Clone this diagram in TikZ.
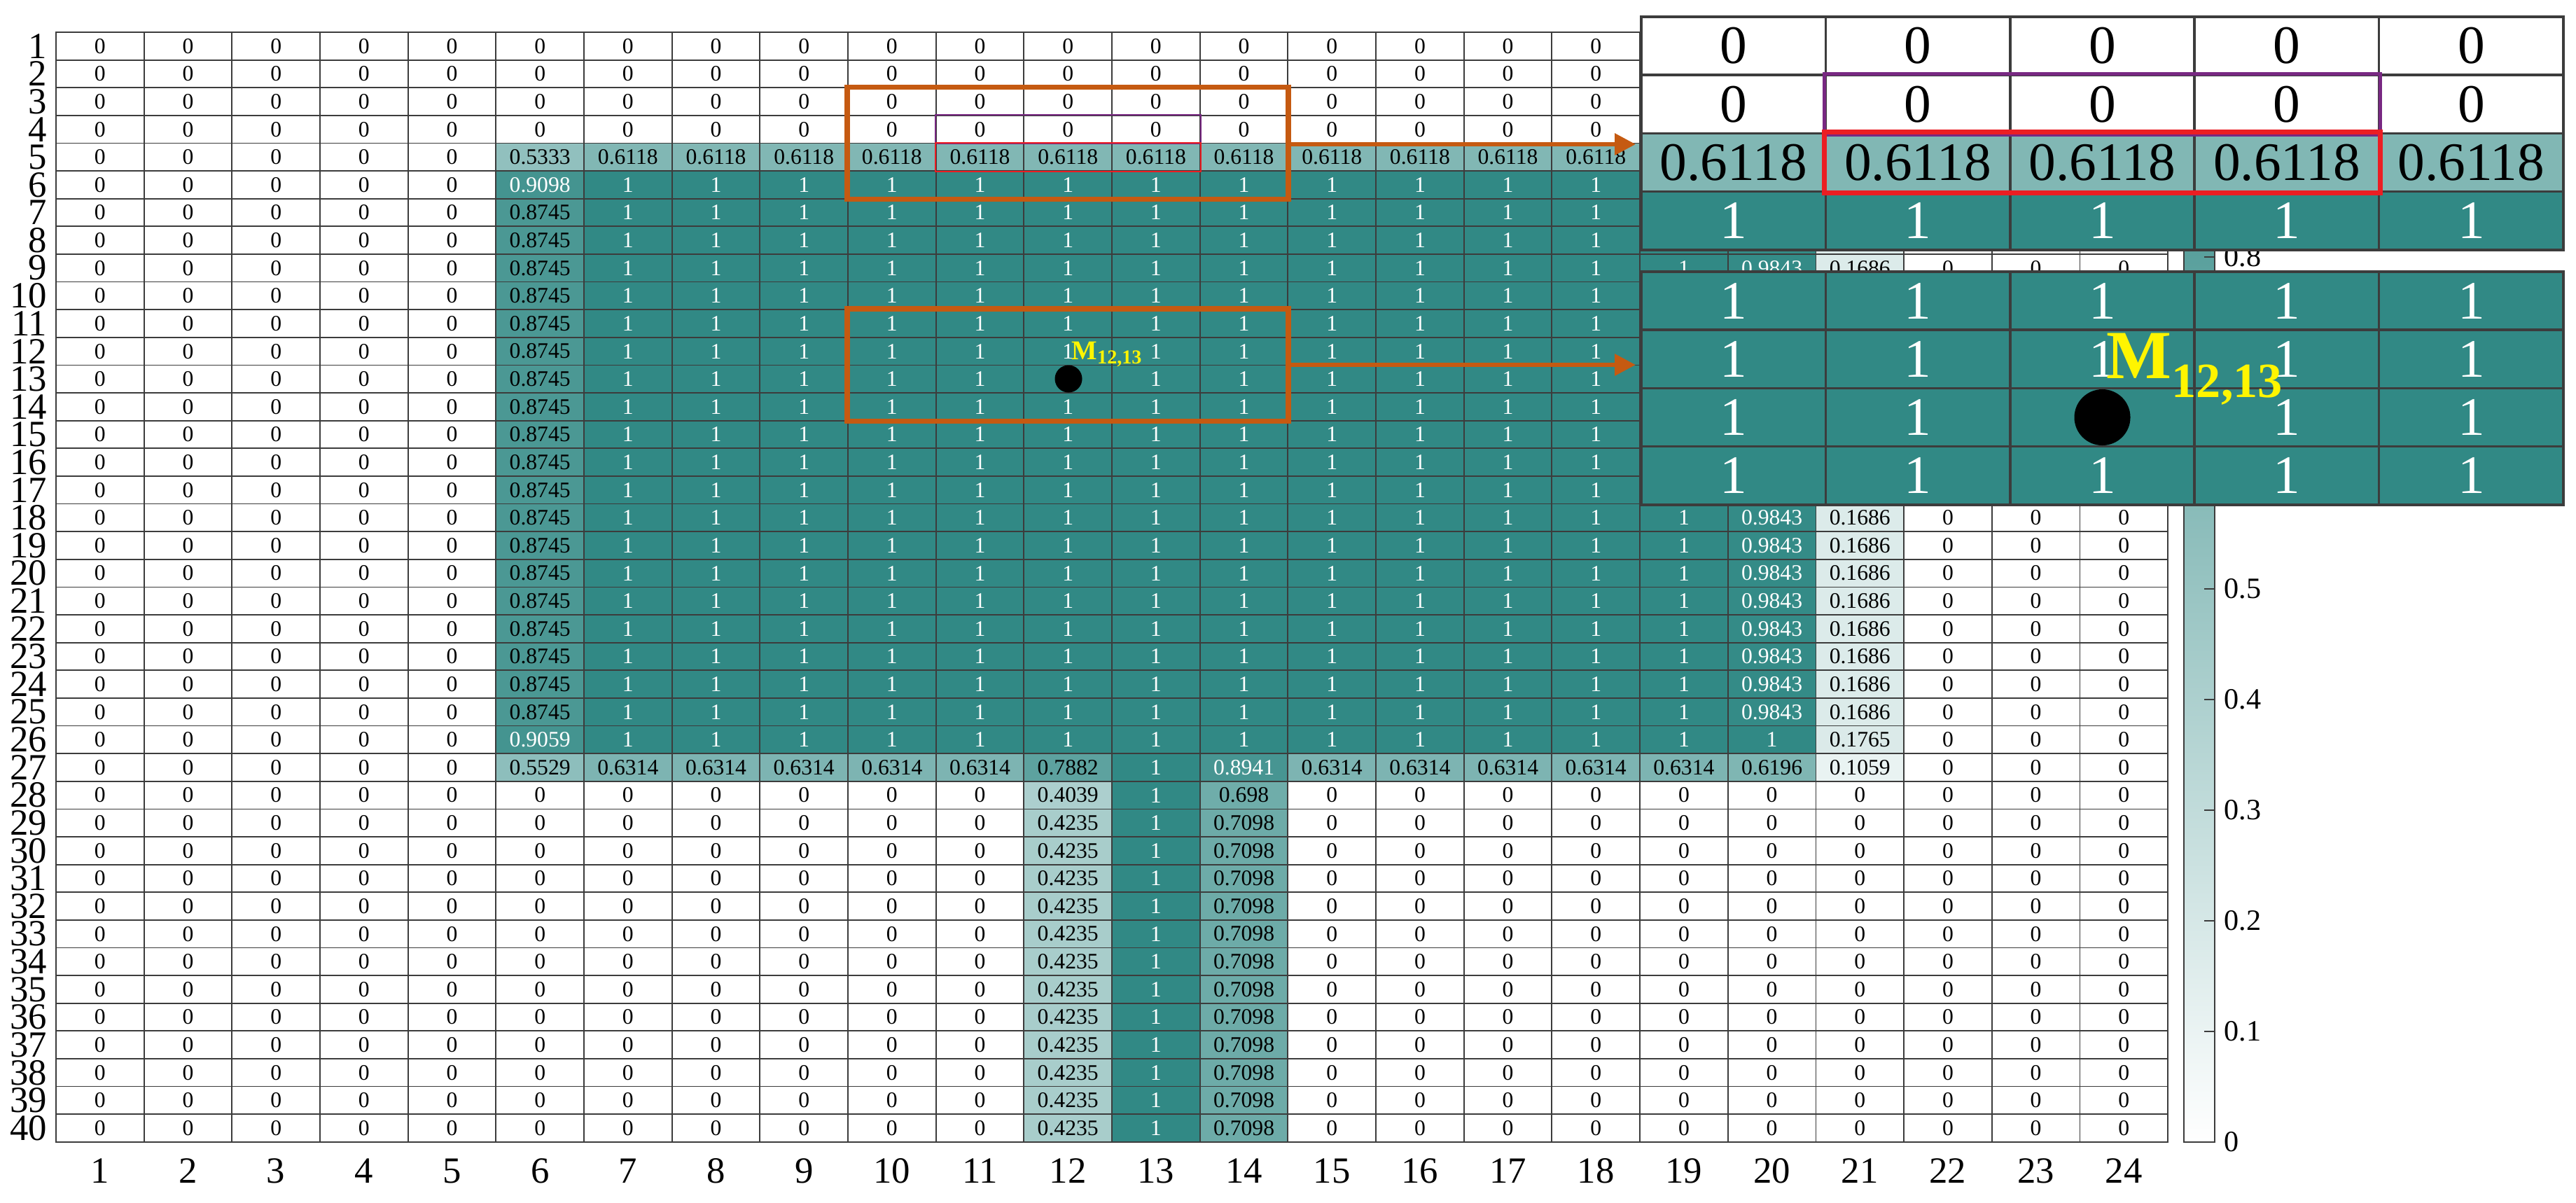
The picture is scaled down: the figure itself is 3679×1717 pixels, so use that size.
\documentclass[tikz,border=0pt]{standalone}
\usepackage{fontspec}
\setmainfont{Liberation Serif}
\usetikzlibrary{arrows.meta}
\definecolor{teal1}{RGB}{49,137,133}
\definecolor{orng}{RGB}{197,90,17}
\definecolor{purp}{RGB}{120,40,130}
\definecolor{redb}{RGB}{235,30,35}
\definecolor{gridc}{RGB}{60,60,60}
\definecolor{ylw}{RGB}{255,245,0}
\tikzset{
 cell/.style={draw=gridc,line width=0.5pt,minimum width=1.257cm,minimum height=0.396cm,inner sep=0pt,font=\fontsize{9}{9}\selectfont},
 icell/.style={draw=gridc,line width=1pt,minimum width=2.634cm,minimum height=0.832cm,inner sep=0pt,font=\fontsize{22}{22}\selectfont},
 lab/.style={font=\fontsize{15}{15}\selectfont,inner sep=0pt},
 cblab/.style={font=\fontsize{12}{12}\selectfont,inner sep=0pt,anchor=west},
 obox/.style={draw=orng,line width=2.2pt},
 oarrow/.style={draw=orng,line width=1.8pt,-{Triangle[length=0.3cm,width=0.3cm]}},
 mlab/.style={text=ylw,inner sep=0pt,anchor=base west}
}
\newcommand\mrow[2]{\foreach \v [count=\c] in {#2}{%
 \pgfmathsetmacro\pc{100*\v}\pgfmathtruncatemacro\wt{\v>0.88?1:0}%
 \ifnum\wt=1 \def\tc{white}\else\def\tc{black}\fi
 \node[cell,fill=teal1!\pc!white,text=\tc] (m-#1-\c) at ({80+(\c-0.5)*125.67},{46+(#1-0.5)*39.62}) {\v};}}
\newcommand\irow[4]{\foreach \v [count=\c] in {#4}{%
 \pgfmathsetmacro\pc{100*\v}\pgfmathtruncatemacro\wt{\v>0.88?1:0}%
 \ifnum\wt=1 \def\tc{white}\else\def\tc{black}\fi
 \node[icell,fill=teal1!\pc!white,text=\tc] (#1-#2-\c) at ({2344+(\c-0.5)*263.4},{#3+41.6}) {\v};}}
\begin{document}
\begin{tikzpicture}[x=0.01cm,y=-0.01cm]
\useasboundingbox (0,0) rectangle (3679,1717);
% main grid
\foreach \r in {1,...,4}{\mrow{\r}{0,0,0,0,0,0,0,0,0,0,0,0,0,0,0,0,0,0,0,0,0,0,0,0}}
\mrow{5}{0,0,0,0,0,0.5333,0.6118,0.6118,0.6118,0.6118,0.6118,0.6118,0.6118,0.6118,0.6118,0.6118,0.6118,0.6118,0.6118,0.6039,0.102,0,0,0}
\mrow{6}{0,0,0,0,0,0.9098,1,1,1,1,1,1,1,1,1,1,1,1,1,0.9843,0.1686,0,0,0}
\foreach \r in {7,...,25}{\mrow{\r}{0,0,0,0,0,0.8745,1,1,1,1,1,1,1,1,1,1,1,1,1,0.9843,0.1686,0,0,0}}
\mrow{26}{0,0,0,0,0,0.9059,1,1,1,1,1,1,1,1,1,1,1,1,1,1,0.1765,0,0,0}
\mrow{27}{0,0,0,0,0,0.5529,0.6314,0.6314,0.6314,0.6314,0.6314,0.7882,1,0.8941,0.6314,0.6314,0.6314,0.6314,0.6314,0.6196,0.1059,0,0,0}
\mrow{28}{0,0,0,0,0,0,0,0,0,0,0,0.4039,1,0.698,0,0,0,0,0,0,0,0,0,0}
\foreach \r in {29,...,40}{\mrow{\r}{0,0,0,0,0,0,0,0,0,0,0,0.4235,1,0.7098,0,0,0,0,0,0,0,0,0,0}}
% axis labels
\foreach \r in {1,...,40}{\node[lab,anchor=east] (rl\r) at (68,{46+(\r-0.5)*39.62}) {\r};}
\foreach \c in {1,...,24}{\node[lab] (cl\c) at ({80+(\c-0.5)*125.67},1672) {\c};}
% colorbar
\shade[top color=teal1,bottom color=white] (3119,51) rectangle (3163,1631);
\draw[gridc,line width=0.5pt] (3119,51) rectangle (3163,1631);
\foreach \t/\l in {0/0,1/0.1,2/0.2,3/0.3,4/0.4,5/0.5,6/0.6,7/0.7,8/0.8,9/0.9,10/1}{
 \draw[gridc,line width=0.5pt] (3148,{1631-158*\t}) -- (3163,{1631-158*\t});
 \node[cblab] (cb\t) at (3176,{1631-158*\t}) {\l};}
% boxes in main
\draw[purp,line width=0.6pt] (m-4-11.north west) rectangle (m-4-13.south east);
\draw[redb,line width=0.6pt] (m-5-11.north west) rectangle (m-5-13.south east);
\draw[obox] (m-3-10.north west) rectangle (m-6-14.south east);
\draw[obox] (m-11-10.north west) rectangle (m-14-14.south east);
\node[circle,fill=black,minimum size=0.39cm,inner sep=0pt] (dot) at (1526,541) {};
\node[mlab] (mm) at (1530,513) {\fontsize{11}{11}\selectfont\bfseries M\raisebox{-0.35ex}{\fontsize{8}{8}\selectfont 12,13}};
% arrows
\coordinate (a1s) at (1842,206);
\coordinate (a1e) at (2336,206);
\coordinate (a2s) at (1842,521);
\coordinate (a2e) at (2336,521);
\draw[oarrow] (a1s) -- (a1e);
\draw[oarrow] (a2s) -- (a2e);
% inset 1
\irow{ia}{1}{24}{0,0,0,0,0}
\irow{ia}{2}{107.2}{0,0,0,0,0}
\irow{ia}{3}{190.4}{0.6118,0.6118,0.6118,0.6118,0.6118}
\irow{ia}{4}{273.6}{1,1,1,1,1}
\draw[purp,line width=1.6pt] (ia-2-2.north west) rectangle (ia-2-4.south east);
\draw[redb,line width=1.8pt] (ia-3-2.north west) rectangle (ia-3-4.south east);
% inset 2
\irow{ib}{1}{388}{1,1,1,1,1}
\irow{ib}{2}{471.2}{1,1,1,1,1}
\irow{ib}{3}{554.4}{1,1,1,1,1}
\irow{ib}{4}{637.6}{1,1,1,1,1}
\node[circle,fill=black,minimum size=0.8cm,inner sep=0pt] (idot) at (ib-3-3) {};
\node[mlab] (im) at (3008,540) {\fontsize{28}{28}\selectfont\bfseries M\raisebox{-0.6ex}{\fontsize{20}{20}\selectfont 12,13}};
\end{tikzpicture}
\end{document}
